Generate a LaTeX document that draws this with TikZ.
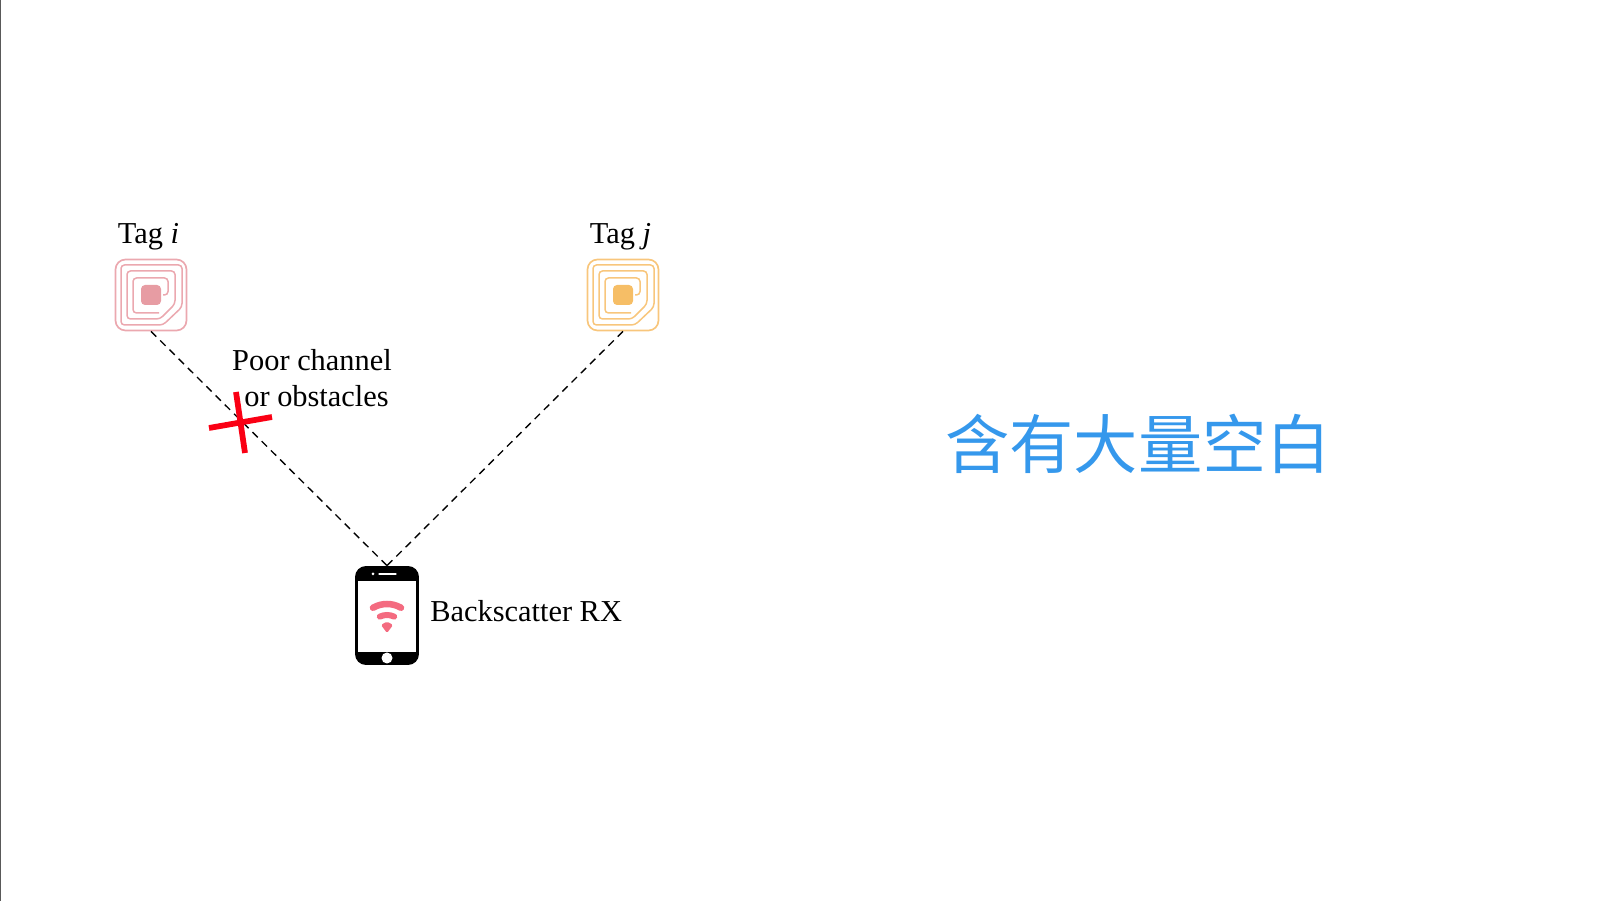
\documentclass[tikz,border=0pt]{standalone}
\usepackage{fontspec}
\setmainfont{Liberation Serif}
\newfontfamily\cjkfont{Noto Sans CJK SC}
\usetikzlibrary{calc}
\definecolor{tagred}{HTML}{EBA8AF}
\definecolor{tagorange}{HTML}{F8C67C}
\definecolor{chipred}{HTML}{E79CA3}
\definecolor{chiporange}{HTML}{F6BE66}
\definecolor{wifired}{HTML}{F46B80}
\definecolor{crossred}{HTML}{FA0014}
\definecolor{titleblue}{HTML}{3598EC}
\tikzset{
	label text/.style={font=\fontsize{17.3}{20}\selectfont, inner sep=0pt, text=black},
	tag box/.style={draw=#1, line width=0.34mm, rounded corners=0.2cm, minimum size=1.42cm, inner sep=0pt},
	link/.style={line width=0.27mm, dash pattern=on 1.5mm off 1.1mm},
	cross bar/.style={crossred, line width=1.15mm}
}
% one rfid inlay: #1 name of the box, #2 line colour, #3 chip colour
\def\rfidinlay#1#2#3{
	\begin{scope}[shift={(#1)}, draw=#2, line width=0.3mm, rounded corners=0.07cm]
		\draw (12,30) -- (-30,30) -- (-30,-30) -- (31,-30) -- (31,12) -- cycle;
		\draw (9,24) -- (-24,24) -- (-24,-24) -- (24,-24) -- (24,9) -- cycle;
		\draw (8,18) -- (-18,18) -- (-18,-17) -- (17,-17) -- (17,0) -- (12,0);
		\fill[#3, rounded corners=0.08cm] (-10,-10) rectangle (10,10);
	\end{scope}
}
\begin{document}
\begin{tikzpicture}[x=0.02cm, y=-0.02cm]
	\useasboundingbox (0,0) rectangle (1600,901);
	\fill[black!65] (0,0) rectangle (1.4,901);

	% tags
	\node[tag box=tagred] (tagi) at (151,295) {};
	\node[tag box=tagorange] (tagj) at (623,295) {};
	\rfidinlay{tagi}{tagred}{chipred}
	\rfidinlay{tagj}{tagorange}{chiporange}
	\node[label text] (labeli) at (148.5,237) {Tag \textit{i}};
	\node[label text] (labelj) at (620.5,237) {Tag \textit{j}};

	% phone
	\node[fill=black, rounded corners=0.22cm, minimum width=1.28cm, minimum height=1.98cm, inner sep=0pt] (phone) at (387,615.5) {};
	\fill[white] (358,581) rectangle (416,652);
	\fill[white] (387,658) circle (5.5);
	\fill[white] (373,574) circle (1.5);
	\draw[white, line width=0.25mm, line cap=round] (379,574) -- (396,574);
	\draw[wifired, line width=1.3mm, line cap=round] (387,632) ++(-120:28) arc (-120:-60:28);
	\draw[wifired, line width=1.2mm, line cap=round] (387,632) ++(-115:17) arc (-115:-65:17);
	\fill[wifired, rounded corners=0.03cm] (387,633) -- (381,625) -- (387,621.5) -- (393,625) -- cycle;
	\node[label text, anchor=west] (rx) at (430,611) {Backscatter RX};

	% links
	\draw[link] (tagi.south) -- (phone.north);
	\draw[link] (tagj.south) -- (phone.north);

	% blocked path
	\coordinate (crossa) at (236,392);
	\coordinate (crossb) at (245,453);
	\coordinate (crossc) at (209,428);
	\coordinate (crossd) at (272,417);
	\draw[cross bar] (crossa) -- (crossb);
	\draw[cross bar] (crossc) -- (crossd);
	\node[label text] (poor) at (312,360) {Poor channel};
	\node[label text] (obstacle) at (316.5,396) {or obstacles};

	\node[font=\cjkfont\fontsize{36.6}{40}\selectfont, text=titleblue, inner sep=0pt] (blank) at (1138,444) {含有大量空白};
\end{tikzpicture}
\end{document}
